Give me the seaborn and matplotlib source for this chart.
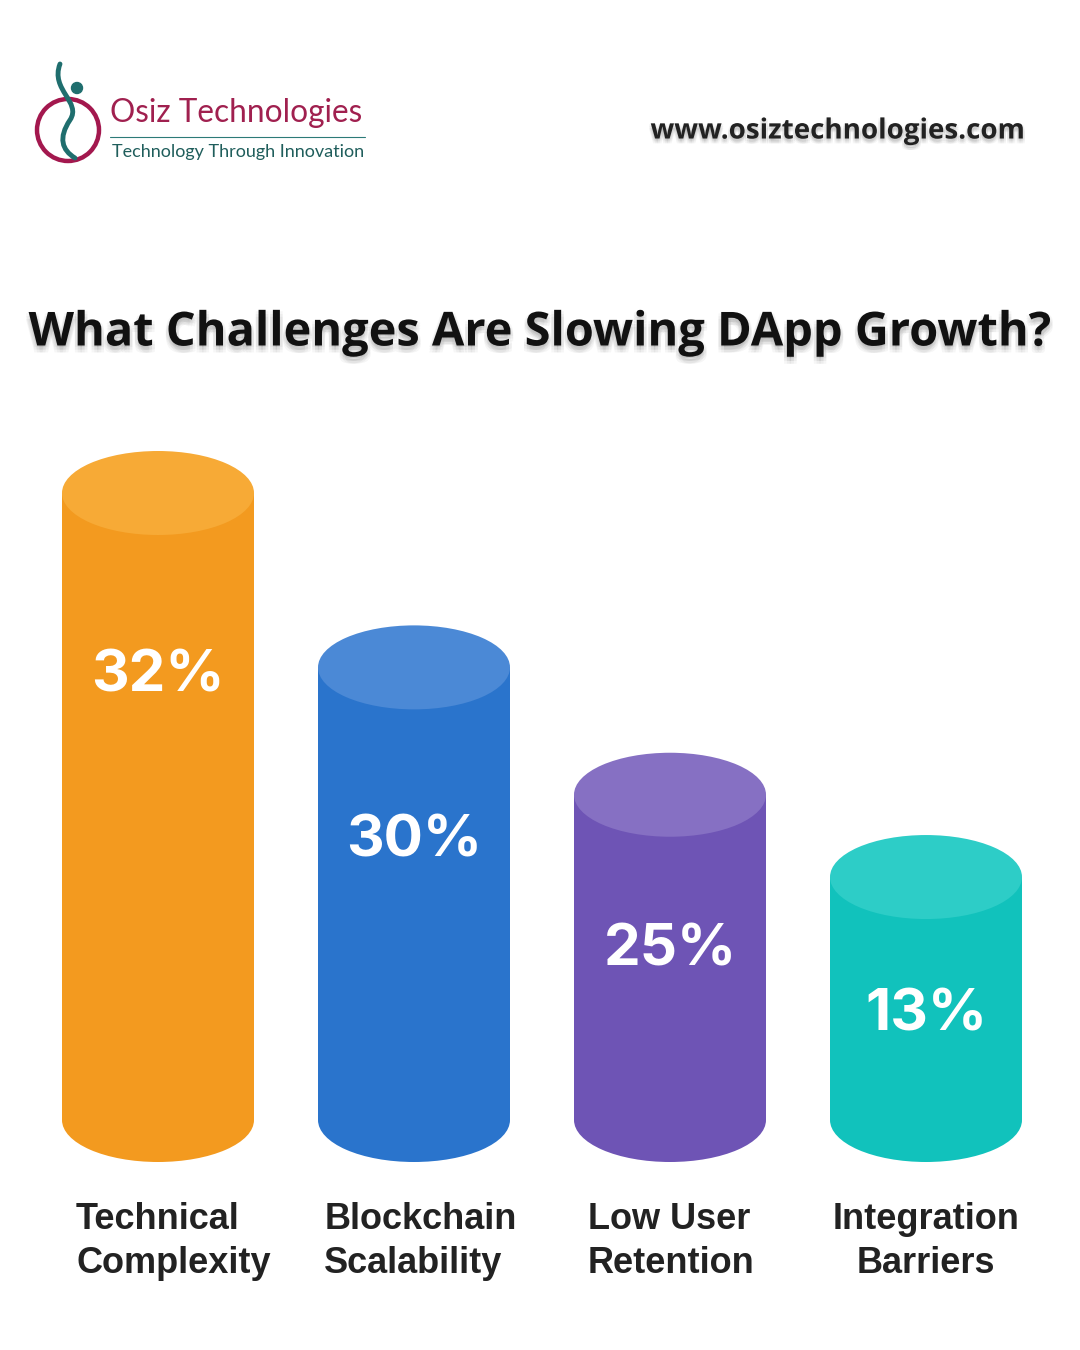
import matplotlib
matplotlib.use("Agg")
import matplotlib.pyplot as plt
import matplotlib.patheffects as pe
from matplotlib.patches import Ellipse, Circle, PathPatch
from matplotlib.path import Path
import seaborn as sns

# ── data ─────────────────────────────────────────────────────────────────────
categories = ["Technical\nComplexity", "Blockchain\nScalability",
              "Low User\nRetention", "Integration\nBarriers"]
values = [32, 30, 25, 13]                 # printed percentages
bar_heights = [32, 23.1, 16.6, 12.4]      # drawn cylinder heights
body_colors = ["#F39A1F", "#2A74CC", "#6E54B5", "#11C2BC"]
top_colors = ["#F7AA36", "#4B89D6", "#8670C3", "#2DCDC7"]

title = "What Challenges Are Slowing DApp Growth?"
url = "www.osiztechnologies.com"
brand = "Osiz Technologies"
tagline = "Technology Through Innovation"

# layout tweaks (pixels / alignment), not data
label_drop_px = [183, 174, 156, 138]
label_align = ["left", "left", "left", "center"]
label_shift = [-0.32, -0.35, -0.32, 0.0]

sns.set_theme(style="white")
W, H = 1080, 1350
fig = plt.figure(figsize=(W / 100, H / 100), dpi=100)
fig.patch.set_facecolor("white")

# ── cylinders ────────────────────────────────────────────────────────────────
px_per_unit = 627 / 32
ax = fig.add_axes([30 / W, 1 - 1300 / H, 1024 / W, 870 / H])
sns.barplot(x=categories, y=bar_heights, hue=categories, palette=body_colors,
            width=0.75, saturation=1, legend=False, ax=ax, zorder=2, linewidth=0)
ax.set_xlim(-0.5, len(categories) - 0.5)
ax.set_ylim(-180 / px_per_unit, 690 / px_per_unit)
ell_h = 84 / px_per_unit
for i, (h, v) in enumerate(zip(bar_heights, values)):
    ax.add_patch(Ellipse((i, 0), 0.75, ell_h, color=body_colors[i], zorder=2.5, lw=0))
    ax.add_patch(Ellipse((i, h), 0.75, ell_h, color=top_colors[i], zorder=3, lw=0))
    ax.text(i, h - label_drop_px[i] / px_per_unit, f"{v}%", ha="center", va="center",
            color="white", fontsize=42, fontweight="bold", family="Inter", zorder=4)
    # category label under the cylinder
    al = label_align[i]
    ax.text(i + label_shift[i], -82 / px_per_unit, categories[i],
            ha=al, va="top", multialignment=al, fontsize=26, fontweight="bold",
            family="Liberation Sans", color="#222222", linespacing=1.35)
ax.set_facecolor("none")
ax.axis("off")

# ── header ───────────────────────────────────────────────────────────────────
def soft_shadow(scale):
    # several faint offset copies fake a blurred drop shadow
    effects = []
    for dx in (-2, 0, 2):
        for dy in (-1, -3, -5):
            effects.append(pe.SimplePatchShadow(offset=(dx * scale, dy * scale),
                                                shadow_rgbFace="black", alpha=0.035))
    return effects + [pe.Normal()]

fig.text(540 / W, 1 - 333 / H, title, ha="center", va="center", fontsize=33.8,
         fontweight="bold", family="Open Sans", color="#111111",
         path_effects=soft_shadow(1.0))
fig.text(1025 / W, 1 - 131 / H, url, ha="right", va="center", fontsize=20,
         fontweight="bold", family="Open Sans", color="#222222",
         path_effects=soft_shadow(0.7))

# logo
lax = fig.add_axes([0, 1 - 200 / H, 400 / W, 200 / H])
lax.set_xlim(0, 400)
lax.set_ylim(200, 0)
lax.axis("off")
lax.add_patch(Circle((68, 130), 31, fill=False, ec="#A3184E", lw=3.2))
lax.add_patch(Circle((77, 88), 5.5, color="#1F6E6E"))
curve = Path([(60, 64), (50, 90), (82, 102), (70, 120), (58, 138), (62, 150), (75, 158)],
             [Path.MOVETO, Path.CURVE4, Path.CURVE4, Path.CURVE4,
              Path.CURVE4, Path.CURVE4, Path.CURVE4])
lax.add_patch(PathPatch(curve, fill=False, ec="#1F6E6E", lw=3.5, capstyle="round"))
lax.text(110, 113, brand, ha="left", va="center", fontsize=22.7, family="Lato",
         color="#A0204F")
lax.plot([110, 365], [137, 137], color="#2C7A78", lw=0.8)
lax.text(112, 152, tagline, ha="left", va="center", fontsize=13, family="Lato",
         color="#205E5C")

fig.savefig("out.png", dpi=100, facecolor="white")
